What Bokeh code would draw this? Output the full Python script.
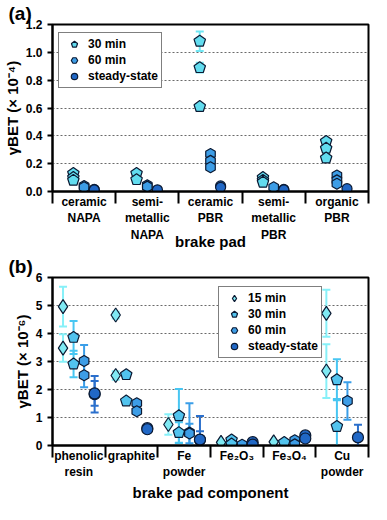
import math
from bokeh.plotting import figure
from bokeh.layouts import column
from bokeh.models import (Range1d, FixedTicker, Legend, LegendItem, PrintfTickFormatter)
from bokeh.embed import file_html
from bokeh.resources import INLINE

FONT = "Liberation Sans"
OUT = "#0b1a33"

# ---------------- panel (a) data ----------------
cats_a = ["ceramic\nNAPA", "semi-\nmetallic\nNAPA", "ceramic\nPBR", "semi-\nmetallic\nPBR", "organic\nPBR"]
a30_cat = [0, 0, 0, 1, 1, 2, 2, 2, 3, 3, 3, 4, 4, 4]
a30_val = [0.13, 0.10, 0.08, 0.13, 0.085, 1.08, 0.89, 0.61, 0.10, 0.08, 0.066, 0.36, 0.31, 0.24]
a30_err = [0, 0, 0, 0, 0, 0.07, 0.035, 0, 0, 0, 0, 0, 0, 0]
a60_cat = [0, 0, 1, 1, 2, 2, 2, 3, 4, 4, 4]
a60_val = [0.04, 0.03, 0.045, 0.035, 0.27, 0.22, 0.175, 0.03, 0.115, 0.08, 0.055]
ass_cat = [0, 0, 1, 2, 2, 3, 3, 4]
ass_val = [0.015, 0.012, 0.012, 0.04, 0.03, 0.015, 0.012, 0.02]

# ---------------- panel (b) data ----------------
cats_b = ["phenolic\nresin", "graphite", "Fe\npowder", "Fe\u2082O\u2083", "Fe\u2083O\u2084", "Cu\npowder"]
b15_cat = [0, 0, 1, 1, 2, 3, 4, 5, 5]
b15_val = [4.96, 3.48, 4.66, 2.50, 0.75, 0.11, 0.13, 4.72, 2.66]
b15_err = [0.71, 0.49, 0.12, 0.15, 0.37, 0, 0, 0.84, 0.96]
b30_cat = [0, 0, 1, 1, 2, 2, 3, 3, 4, 5, 5]
b30_val = [3.86, 2.91, 2.53, 1.59, 1.06, 0.46, 0.20, 0.05, 0.11, 2.35, 0.68]
b30_err = [0.59, 0.47, 0, 0, 0.96, 0.37, 0, 0, 0, 0.73, 0.98]
b60_cat = [0, 0, 1, 1, 2, 2, 3, 4, 4, 5]
b60_val = [3.02, 2.51, 1.51, 1.22, 0.46, 0.43, 0.03, 0.19, 0.04, 1.59]
b60_err = [0.57, 0.43, 0, 0, 1.05, 0.35, 0, 0, 0, 0.67]
bss_cat = [0, 0, 1, 1, 2, 2, 3, 3, 4, 4, 5]
bss_val = [1.83, 1.86, 0.62, 0.58, 0.20, 0.21, 0.12, 0.03, 0.36, 0.25, 0.29]
bss_err = [0.65, 0.44, 0, 0, 0.85, 0.30, 0, 0, 0, 0, 0.45]

a_offsets = [-0.17, 0.0, 0.16]
b_offsets = [-0.3, -0.1, 0.1, 0.3]

C15 = "#7fe9f3"; E15 = "#86f0f8"
C30a = "#62dcef"; E30a = "#6fe6f3"
C30 = "#52c3ee"; E30 = "#48c6f2"
C60 = "#3d9de6"; E60 = "#3a9ee8"
CSS = "#2168c6"; ESS = "#2a6fcc"


def make_fig(cats, ymax, yticks, fmt, height, bottom, xlabel, ylab, title, xl_std):
    n = len(cats)
    p = figure(width=371, height=height, x_range=Range1d(0, n), y_range=Range1d(0, ymax),
               output_backend="svg", toolbar_location=None,
               min_border_left=0, min_border_right=3, min_border_top=0,
               min_border_bottom=bottom)
    p.title.text = title
    p.title.align = "left"
    p.title.offset = -44
    p.title.standoff = 1
    p.title.text_font = FONT
    p.title.text_font_style = "bold"
    p.title.text_font_size = "19px"
    p.title.text_color = "black"
    p.outline_line_color = "black"
    p.outline_line_width = 2
    p.xgrid.visible = False
    yg = p.ygrid[0]
    yg.ticker = FixedTicker(ticks=yticks)
    yg.grid_line_color = "#6a6a6a"
    yg.grid_line_dash = "2 2"
    yg.grid_line_width = 1
    ya = p.yaxis[0]
    ya.ticker = FixedTicker(ticks=yticks)
    ya.formatter = PrintfTickFormatter(format=fmt)
    ya.axis_line_width = 2
    ya.major_tick_out = 5
    ya.major_tick_in = 0
    ya.major_tick_line_width = 2
    ya.minor_tick_line_color = None
    ya.major_label_text_font = FONT
    ya.major_label_text_font_style = "bold"
    ya.major_label_text_font_size = "12px"
    ya.axis_label = ylab
    ya.axis_label_standoff = 2
    ya.axis_label_text_font = FONT
    ya.axis_label_text_font_style = "bold"
    ya.axis_label_text_font_size = "15px"
    xa = p.xaxis[0]
    xa.ticker = FixedTicker(ticks=[i + 0.5 for i in range(n)],
                            minor_ticks=[float(i) for i in range(n + 1)])
    xa.major_label_overrides = {i + 0.5: c for i, c in enumerate(cats)}
    xa.major_tick_out = 0
    xa.minor_tick_out = 12
    xa.minor_tick_line_width = 2
    xa.axis_line_width = 2
    xa.major_label_standoff = -9
    xa.major_label_text_font = FONT
    xa.major_label_text_font_style = "bold"
    xa.major_label_text_font_size = "12px"
    xa.axis_label = xlabel
    xa.axis_label_standoff = xl_std
    xa.axis_label_text_font = FONT
    xa.axis_label_text_font_style = "bold"
    xa.axis_label_text_font_size = "15px"
    for ax in (ya, xa):
        ax.major_label_text_color = "black"
        ax.axis_label_text_color = "black"
        ax.axis_line_color = "black"
    ya.major_tick_line_color = "black"
    xa.major_tick_in = 0
    xa.major_tick_line_color = None
    xa.minor_tick_in = 0
    xa.minor_tick_line_color = "black"
    return p


def errbars(p, xs, vals, errs, color):
    xe = [x for x, e in zip(xs, errs) if e > 0]
    lo = [v - e for v, e in zip(vals, errs) if e > 0]
    hi = [v + e for v, e in zip(vals, errs) if e > 0]
    if not xe:
        return
    p.segment(x0=xe, y0=lo, x1=xe, y1=hi, line_color=color, line_width=2)
    p.scatter(x=xe + xe, y=lo + hi, marker="dash", size=8, line_color=color, line_width=2)


def pent(p, xs, ys, fill, r):
    return p.ngon(x=xs, y=ys, radius=r, radius_units="screen", n=5, fill_color=fill,
                  line_color=OUT, line_width=1.2)


def hexm(p, xs, ys, fill, s):
    return p.scatter(x=xs, y=ys, marker="hex", size=s, angle=math.pi / 6, fill_color=fill,
                     line_color=OUT, line_width=1.2)


def circ(p, xs, ys, fill, s):
    return p.scatter(x=xs, y=ys, marker="circle", size=s, fill_color=fill,
                     line_color=OUT, line_width=1.2)


def style_legend(lg, loc):
    lg.location = loc
    lg.label_text_font = FONT
    lg.label_text_font_style = "bold"
    lg.label_text_font_size = "12px"
    lg.label_text_color = "black"
    lg.glyph_width = 24
    lg.glyph_height = 16
    lg.label_height = 16
    lg.spacing = 0
    lg.padding = 3
    lg.label_standoff = 2
    lg.border_line_color = "black"
    lg.border_line_width = 1.5
    lg.background_fill_alpha = 1
    lg.margin = 6


# ---------------- figure (a) ----------------
pa = make_fig(cats_a, 1.2, [0, 0.2, 0.4, 0.6, 0.8, 1.0, 1.2], "%.1f", 253, 55,
              "brake pad", "\u03b3BET (\u00d7 10\u207b\u2074)", "(a)", -12)
x30 = [c + 0.5 + a_offsets[0] for c in a30_cat]
x60 = [c + 0.5 + a_offsets[1] for c in a60_cat]
xss = [c + 0.5 + a_offsets[2] for c in ass_cat]
errbars(pa, x30, a30_val, a30_err, E30a)
r1 = pent(pa, x30, a30_val, C30a, 6)
r2 = hexm(pa, x60, a60_val, C60, 11)
r3 = circ(pa, xss, ass_val, CSS, 10)
lga = Legend(items=[LegendItem(label="30 min", renderers=[r1]),
                    LegendItem(label="60 min", renderers=[r2]),
                    LegendItem(label="steady-state", renderers=[r3])])
style_legend(lga, (6, 103))
pa.add_layout(lga)

# ---------------- figure (b) ----------------
pb = make_fig(cats_b, 6, [0, 1, 2, 3, 4, 5, 6], "%d", 251, 55,
              "brake pad component", "\u03b3BET (\u00d7 10\u207b\u2076)", "(b)", 2)
y15x = [c + 0.5 + b_offsets[0] for c in b15_cat]
y30x = [c + 0.5 + b_offsets[1] for c in b30_cat]
y60x = [c + 0.5 + b_offsets[2] for c in b60_cat]
yssx = [c + 0.5 + b_offsets[3] for c in bss_cat]
errbars(pb, y15x, b15_val, b15_err, E15)
errbars(pb, y30x, b30_val, b30_err, E30)
errbars(pb, y60x, b60_val, b60_err, E60)
errbars(pb, yssx, bss_val, bss_err, ESS)
q1 = pb.scatter(x=y15x, y=b15_val, marker="diamond", size=14, fill_color=C15,
                line_color=OUT, line_width=1.2)
q2 = pent(pb, y30x, b30_val, C30, 6)
q3 = hexm(pb, y60x, b60_val, C60, 11)
q4 = circ(pb, yssx, bss_val, CSS, 11)
lgb = Legend(items=[LegendItem(label="15 min", renderers=[q1]),
                    LegendItem(label="30 min", renderers=[q2]),
                    LegendItem(label="60 min", renderers=[q3]),
                    LegendItem(label="steady-state", renderers=[q4])])
style_legend(lgb, (166, 87))
pb.add_layout(lgb)

layout = column(pa, pb, spacing=0)
open("out.html", "w").write(file_html(layout, INLINE))
